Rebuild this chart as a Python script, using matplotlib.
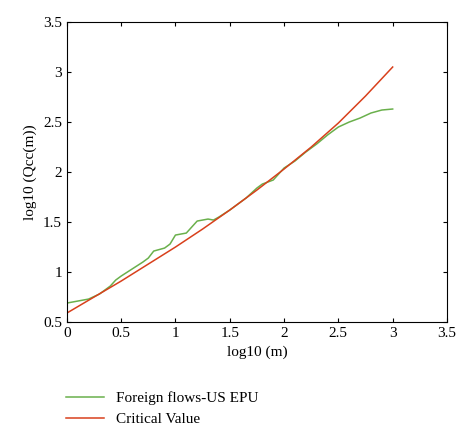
import matplotlib
matplotlib.use("Agg")
import matplotlib.pyplot as plt
plt.rcParams['font.family'] = ['Liberation Serif', 'DejaVu Serif']

x_green = [0, 0.1, 0.2, 0.3, 0.4, 0.45, 0.5, 0.6, 0.7, 0.75, 0.8, 0.9, 0.95, 1.0, 1.1, 1.15, 1.2, 1.3, 1.35, 1.4, 1.5, 1.6, 1.65, 1.75, 1.8, 1.9, 1.95, 2.0, 2.1, 2.2, 2.3, 2.4, 2.5, 2.6, 2.7, 2.8, 2.9, 3.0]
y_green = [0.69, 0.71, 0.73, 0.78, 0.86, 0.92, 0.96, 1.03, 1.10, 1.14, 1.21, 1.24, 1.28, 1.37, 1.39, 1.45, 1.51, 1.53, 1.52, 1.55, 1.62, 1.70, 1.74, 1.84, 1.88, 1.92, 1.98, 2.04, 2.11, 2.20, 2.28, 2.37, 2.45, 2.50, 2.54, 2.59, 2.62, 2.63]
x_red = [0, 0.25, 0.5, 0.75, 1.0, 1.25, 1.5, 1.75, 2.0, 2.25, 2.5, 2.75, 3.0]
y_red = [0.59, 0.75, 0.91, 1.08, 1.25, 1.43, 1.62, 1.82, 2.03, 2.25, 2.49, 2.76, 3.05]

fig = plt.figure(figsize=(4.74, 4.40), dpi=100)
ax = fig.add_axes([0.141, 0.268, 0.802, 0.682])
ax.plot(x_green, y_green, color="#6ab04c", lw=1.1, label="Foreign flows-US EPU")
ax.plot(x_red, y_red, color="#d8401c", lw=1.1, label="Critical Value")
ax.set_xlim(0, 3.5)
ax.set_ylim(0.5, 3.5)
ax.set_xticks([0, 0.5, 1, 1.5, 2, 2.5, 3, 3.5])
ax.set_xticklabels(["0", "0.5", "1", "1.5", "2", "2.5", "3", "3.5"])
ax.set_yticks([0.5, 1, 1.5, 2, 2.5, 3, 3.5])
ax.set_yticklabels(["0.5", "1", "1.5", "2", "2.5", "3", "3.5"])
ax.tick_params(direction="in", labelsize=11, top=True, right=True, length=3)
ax.set_xlabel("log10 (m)", fontsize=11)
ax.set_ylabel("log10 (Qcc(m))", fontsize=11)
fig.legend(loc="lower left", bbox_to_anchor=(0.11, 0.0), frameon=False, fontsize=11, handlelength=2.5)
fig.savefig("out.png", dpi=100)
